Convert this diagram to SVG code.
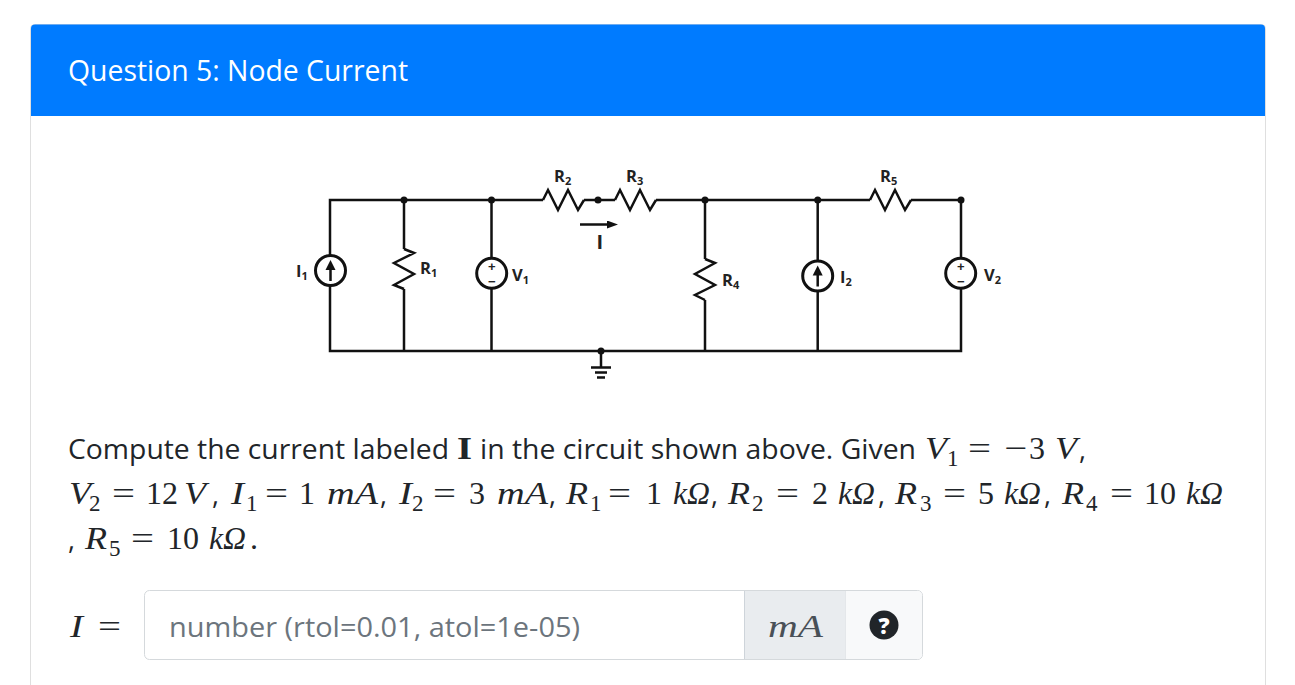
<svg xmlns="http://www.w3.org/2000/svg" width="1295" height="685" viewBox="0 0 1295 685">
<style>
.w{fill:none;stroke:#111;stroke-width:2.5;stroke-linejoin:miter}
.c{fill:#fff;stroke:#111;stroke-width:3}
.d{fill:#111}
.l{font-family:"Open Sans","Noto Sans",sans-serif;font-weight:700;font-size:16.500px;fill:#222}
.l tspan{font-size:11px}
.p{font-family:"Liberation Sans",sans-serif;font-weight:700;font-size:13px;fill:#222;text-anchor:middle}
.t{font-family:"Open Sans","Noto Sans",sans-serif;font-size:27px;fill:#212529}
.m{font-family:"Liberation Serif",serif;font-size:32px;fill:#212529}
.i{font-style:italic}
.s{font-size:23px}
</style>
<defs>
<marker id="ah" markerWidth="12" markerHeight="10" refX="0" refY="4" orient="auto" markerUnits="userSpaceOnUse"><path d="M0 0L11 4L0 8Z" fill="#111"/></marker>
</defs>
<rect x="0" y="0" width="1295" height="685" fill="#fff"/>
<g id="card">
<path d="M30.500 700V28.500a4 4 0 0 1 4-4H1261.500a4 4 0 0 1 4 4V700" fill="#fff" stroke="#dfdfdf"/>
<path d="M31 116V28.500a4 4 0 0 1 4-4H1261a4 4 0 0 1 4 4V116Z" fill="#007bff"/>
<text x="68" y="81" font-family="'Open Sans','Noto Sans',sans-serif" font-size="29px" fill="#fff" textLength="340" lengthAdjust="spacingAndGlyphs">Question 5: Node Current</text>
</g>
<g id="connectors">
<path class="w" d="M543 200H330V351H961V200H911M870 200H656M615 200H584"/>
<path class="w" d="M404 200V249M404 289V351M491.500 200V351M705 200V259M705 300V351M817.700 200V351M601 351V367"/>
<path class="w" d="M591 367.500H611M595 372.500H607M597 377.500H605"/>
<path class="w" d="M580 224.500H607" marker-end="url(#ah)" stroke-width="2"/>
</g>
<g id="R2"><path class="w" d="M543 200L548 190L558 210L568 190L578 210L584 200"/><text class="l" x="554" y="182">R<tspan dy="3">2</tspan></text></g>
<g id="R3"><path class="w" d="M615 200L620 190L630 210L640 190L650 210L656 200"/><text class="l" x="626" y="182">R<tspan dy="3">3</tspan></text></g>
<g id="R5"><path class="w" d="M870 200L875 190L885 210L895 190L905 210L911 200"/><text class="l" x="880" y="182">R<tspan dy="3">5</tspan></text></g>
<g id="R1"><path class="w" d="M404 249L414 253L394 263L414 274L394 285L404 289"/><text class="l" x="420" y="274">R<tspan dy="3">1</tspan></text></g>
<g id="R4"><path class="w" d="M705 259L715 263L695 274L715 285L695 295L705 300"/><text class="l" x="722" y="286">R<tspan dy="3">4</tspan></text></g>
<g id="I1"><circle class="c" cx="330.500" cy="270.500" r="15"/><path class="w" d="M330.500 281V268"/><path class="d" d="M330.500 260L335.500 270H325.500Z"/><text class="l" x="296" y="277">I<tspan dy="3">1</tspan></text></g>
<g id="I2"><circle class="c" cx="817.700" cy="276" r="15"/><path class="w" d="M817.700 286.500V274"/><path class="d" d="M817.700 265.500L822.700 275.500H812.700Z"/><text class="l" x="840" y="283">I<tspan dy="3">2</tspan></text></g>
<g id="V1"><circle class="c" cx="491.700" cy="273.300" r="15"/><text class="p" x="491.700" y="271.300">+</text><text class="p" x="491.700" y="286.300">−</text><text class="l" x="512" y="281">V<tspan dy="3">1</tspan></text></g>
<g id="V2"><circle class="c" cx="960.700" cy="273.300" r="15"/><text class="p" x="960.700" y="271.300">+</text><text class="p" x="960.700" y="286.300">−</text><text class="l" x="984" y="281">V<tspan dy="3">2</tspan></text></g>
<g id="nodes" class="d">
<circle cx="404" cy="200" r="3.500"/><circle cx="491.500" cy="200" r="3.500"/><circle cx="598" cy="200" r="3.500"/><circle cx="705" cy="200" r="3.500"/><circle cx="817.700" cy="200" r="3.500"/><circle cx="961" cy="200" r="3.500"/><circle cx="601" cy="351" r="3.500"/>
</g>
<text id="I-label" class="l" x="596.500" y="249" style="font-size:20px">I</text>
<g id="problem">
<text class="t" x="68" y="459" textLength="381" lengthAdjust="spacingAndGlyphs">Compute the current labeled</text>
<text class="m" x="457" y="459" font-weight="bold" textLength="15" lengthAdjust="spacingAndGlyphs">I</text>
<text class="t" x="480" y="459" textLength="436" lengthAdjust="spacingAndGlyphs">in the circuit shown above. Given</text>
<text class="m i" x="925" y="459" textLength="22" lengthAdjust="spacingAndGlyphs">V</text><text class="m s" x="947" y="466">1</text><text class="m" x="968" y="459" textLength="23" lengthAdjust="spacingAndGlyphs">=</text><text class="m" x="1004" y="459" textLength="23" lengthAdjust="spacingAndGlyphs">−</text><text class="m" x="1029" y="459">3</text><text class="m i" x="1055" y="459" textLength="22" lengthAdjust="spacingAndGlyphs">V</text><text class="t" x="1079" y="459">,</text>
<text class="m i" x="69" y="504" textLength="22" lengthAdjust="spacingAndGlyphs">V</text><text class="m s" x="89" y="511">2</text><text class="m" x="112" y="504" textLength="23" lengthAdjust="spacingAndGlyphs">=</text><text class="m" x="146" y="504">12</text><text class="m i" x="184" y="504" textLength="22" lengthAdjust="spacingAndGlyphs">V</text><text class="t" x="212" y="504">,</text>
<text class="m i" x="231" y="504" textLength="13" lengthAdjust="spacingAndGlyphs">I</text><text class="m s" x="246" y="511">1</text><text class="m" x="265" y="504" textLength="23" lengthAdjust="spacingAndGlyphs">=</text><text class="m" x="299" y="504">1</text><text class="m i" x="327" y="504" textLength="51" lengthAdjust="spacingAndGlyphs">mA</text><text class="t" x="380" y="504">,</text>
<text class="m i" x="399" y="504" textLength="13" lengthAdjust="spacingAndGlyphs">I</text><text class="m s" x="412" y="511">2</text><text class="m" x="433" y="504" textLength="23" lengthAdjust="spacingAndGlyphs">=</text><text class="m" x="469" y="504">3</text><text class="m i" x="497" y="504" textLength="51" lengthAdjust="spacingAndGlyphs">mA</text><text class="t" x="549" y="504">,</text>
<text class="m i" x="566" y="504" textLength="22" lengthAdjust="spacingAndGlyphs">R</text><text class="m s" x="590" y="511">1</text><text class="m" x="608" y="504" textLength="23" lengthAdjust="spacingAndGlyphs">=</text><text class="m" x="646" y="504">1</text><text class="m i" x="673" y="504" textLength="37" lengthAdjust="spacingAndGlyphs">kΩ</text><text class="t" x="711" y="504">,</text>
<text class="m i" x="728" y="504" textLength="22" lengthAdjust="spacingAndGlyphs">R</text><text class="m s" x="752" y="511">2</text><text class="m" x="776" y="504" textLength="23" lengthAdjust="spacingAndGlyphs">=</text><text class="m" x="812" y="504">2</text><text class="m i" x="838" y="504" textLength="37" lengthAdjust="spacingAndGlyphs">kΩ</text><text class="t" x="878" y="504">,</text>
<text class="m i" x="895" y="504" textLength="22" lengthAdjust="spacingAndGlyphs">R</text><text class="m s" x="920" y="511">3</text><text class="m" x="943" y="504" textLength="23" lengthAdjust="spacingAndGlyphs">=</text><text class="m" x="978" y="504">5</text><text class="m i" x="1004" y="504" textLength="37" lengthAdjust="spacingAndGlyphs">kΩ</text><text class="t" x="1044" y="504">,</text>
<text class="m i" x="1062" y="504" textLength="22" lengthAdjust="spacingAndGlyphs">R</text><text class="m s" x="1086" y="511">4</text><text class="m" x="1110" y="504" textLength="23" lengthAdjust="spacingAndGlyphs">=</text><text class="m" x="1144" y="504">10</text><text class="m i" x="1186" y="504" textLength="37" lengthAdjust="spacingAndGlyphs">kΩ</text>
<text class="t" x="68" y="549">,</text><text class="m i" x="85" y="549" textLength="22" lengthAdjust="spacingAndGlyphs">R</text><text class="m s" x="109" y="556">5</text><text class="m" x="131" y="549" textLength="23" lengthAdjust="spacingAndGlyphs">=</text><text class="m" x="167" y="549">10</text><text class="m i" x="209" y="549" textLength="37" lengthAdjust="spacingAndGlyphs">kΩ</text><text class="m" x="250" y="549">.</text>
</g>
<g id="answer">
<text class="m i" x="70" y="637" textLength="13" lengthAdjust="spacingAndGlyphs">I</text><text class="m" x="98" y="637" textLength="23" lengthAdjust="spacingAndGlyphs">=</text>
<rect x="144.500" y="590.500" width="778" height="69" rx="5" fill="#fff" stroke="#d5d9dc"/>
<path d="M744.500 591H845V659H744.500Z" fill="#e9ecef"/>
<path d="M845 591H917.500a4.500 4.500 0 0 1 4.500 4.500V654.500a4.500 4.500 0 0 1-4.500 4.500H845Z" fill="#f8f9fa"/>
<path d="M744.500 591V659" stroke="#ced4da" fill="none"/>
<path d="M845.500 591V659" stroke="#e4e7ea" fill="none"/>
<text x="169" y="637" font-family="'Open Sans','Noto Sans',sans-serif" font-size="27px" fill="#6c757d" textLength="411" lengthAdjust="spacingAndGlyphs">number (rtol=0.01, atol=1e-05)</text>
<text class="m i" x="768" y="637" style="fill:#495057" textLength="55" lengthAdjust="spacingAndGlyphs">mA</text>
<circle cx="884" cy="625" r="14.500" fill="#212529"/>
<text x="884" y="634" text-anchor="middle" font-family="'Open Sans',sans-serif" font-weight="800" font-size="22px" fill="#fff">?</text>
</g>
</svg>
